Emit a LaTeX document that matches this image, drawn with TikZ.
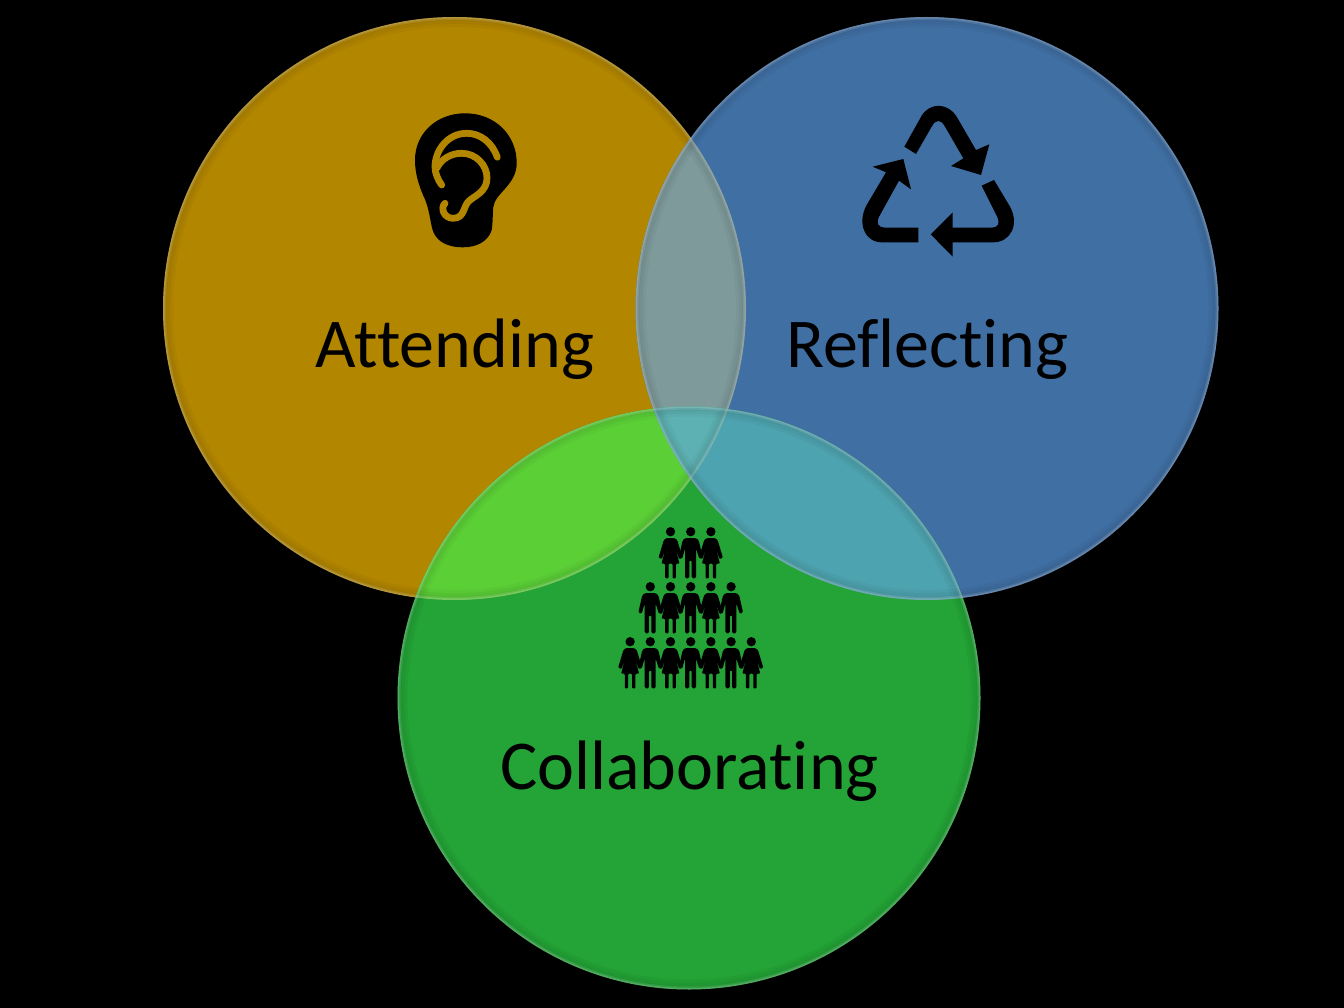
\documentclass[tikz,border=0pt]{standalone}
\usepackage{fontspec}
\setmainfont[Ligatures={NoCommon,NoRequired,NoContextual,NoDiscretionary}]{Carlito}
\definecolor{cA}{HTML}{B38600}
\definecolor{cB}{HTML}{406FA3}
\definecolor{cC}{HTML}{24A336}
\definecolor{cAB}{HTML}{7E9A9B}
\definecolor{cAC}{HTML}{5BD036}
\definecolor{cBC}{HTML}{4DA3AF}
\definecolor{cABC}{HTML}{5DB1B2}
\newcommand{\pA}{(454.5,308.5) circle [radius=291.5pt]}
\newcommand{\pB}{(927,308.5) circle [radius=291.5pt]}
\newcommand{\pC}{(689,698) circle [radius=291.5pt]}
\newcommand{\bevel}[1]{\begin{scope}\clip #1;
  \draw[black,opacity=.035,line width=8pt] #1;
  \draw[black,opacity=.035,line width=14pt] #1;
  \draw[black,opacity=.03,line width=20pt] #1;
  \draw[white,opacity=.10,line width=6pt] #1;
  \draw[white,opacity=.14,line width=3pt] #1;
\end{scope}}
\tikzset{
  x=1pt,y=-1pt,
  label text/.style={inner sep=0pt,anchor=base,text=black,font=\fontsize{70}{76}\selectfont},
  earline/.style={draw=cA,line width=6.8pt,line cap=round,line join=round},
  man/.pic={\begin{scope}[scale=1/3]
    \fill[black] (0,0) circle [radius=14];
    \fill[black,rounded corners=1.5pt] (-16,19)--(-24,25)--(-36,78)--(-26,82)--(-17,50)--(-17,140)--(-4,140)--(-4,85)--(3,85)--(3,140)--(16,140)--(16,50)--(26,82)--(36,78)--(24,25)--(16,19)--cycle;
  \end{scope}},
  woman/.pic={\begin{scope}[scale=1/3]
    \fill[black] (0,0) circle [radius=14];
    \fill[black,rounded corners=1pt] (-12,19)--(-20,25)--(-36,78)--(-26,82)--(-15,50)--(-27,96)--(-16,96)--(-16,140)--(-6,140)--(-6,96)--(6,96)--(6,140)--(16,140)--(16,96)--(27,96)--(15,50)--(26,82)--(36,78)--(20,25)--(12,19)--cycle;
  \end{scope}},
}
\begin{document}
\begin{tikzpicture}
\useasboundingbox (0,0) rectangle (1344,1008);
\fill[black] (0,0) rectangle (1344,1008);
% base discs
\fill[cA] \pA;
\fill[cB] \pB;
\fill[cC] \pC;
% overlaps
\begin{scope}\clip \pA; \fill[cAB] \pB; \fill[cAC] \pC; \end{scope}
\begin{scope}\clip \pB; \fill[cBC] \pC; \end{scope}
\begin{scope}\clip \pA; \clip \pB; \fill[cABC] \pC; \end{scope}
% bevels
\bevel{\pA}
\bevel{\pB}
\bevel{\pC}
% labels
\node[label text] (attending) at (455,367) {Attending};
\node[label text] (reflecting) at (927.5,367) {Reflecting};
\node[label text] (collaborating) at (689.5,789) {Collaborating};
% ear
\fill[black] (465,113.3) .. controls (495,113.3) and (516.7,135) .. (516.7,163)
  .. controls (516.7,185) and (495,193) .. (493.3,207)
  .. controls (492.5,215) and (493,222) .. (491.7,230)
  .. controls (488,242) and (476,247.3) .. (463,247.3)
  .. controls (445,247.3) and (435,240) .. (432,228)
  .. controls (429,213) and (428,205) .. (423,195)
  .. controls (418,183) and (415,172) .. (415,160)
  .. controls (415,133) and (437,113.3) .. (465,113.3) -- cycle;
\draw[earline] (497.3,157.3) .. controls (492,142) and (480,133.3) .. (466.7,133.3)
  .. controls (448,133.3) and (435,150) .. (435,167)
  .. controls (435,173) and (438,180) .. (441.7,185);
\draw[earline] (437,168) .. controls (441,159) and (451,153.3) .. (461.7,153.3)
  .. controls (476,153.3) and (487,165) .. (487,178)
  .. controls (487,192) and (474,196) .. (469,201)
  .. controls (463,206) and (465,218.3) .. (453,218.3)
  .. controls (444,218.3) and (440,208) .. (445,203.3);
% recycle
\begin{scope}[shift={(850,95)},scale=1/3]
\fill[black] (163,155) -- (215,62) .. controls (240,22) and (292,22) .. (320,65)
  -- (378,165) -- (418,148) -- (393,240) -- (303,213) -- (340,190) -- (285,95)
  .. controls (272,72) and (258,72) .. (245,95) -- (198,177) -- cycle;
\fill[black] (205,442) -- (95,442) .. controls (45,442) and (20,385) .. (50,330)
  -- (108,232) -- (68,215) -- (160,192) -- (183,283) -- (147,257) -- (90,360)
  .. controls (75,385) and (85,398) .. (105,398) -- (205,398) -- cycle;
\fill[black] (395,272) -- (432,255) -- (480,335) .. controls (510,390) and (480,442) .. (430,442)
  -- (308,442) -- (308,485) -- (242,418) -- (308,352) -- (308,398) -- (425,398)
  .. controls (445,398) and (452,385) .. (440,362) -- cycle;
\end{scope}
% people
\foreach \i/\t in {-1/woman,0/man,1/woman}
  \pic at ({690.7+\i*20.2},531.7) {\t};
\foreach \i/\t in {-2/man,-1/woman,0/man,1/woman,2/man}
  \pic at ({690.7+\i*20.2},586.7) {\t};
\foreach \i/\t in {-3/woman,-2/man,-1/woman,0/man,1/woman,2/man,3/woman}
  \pic at ({690.7+\i*20.2},641.7) {\t};
\end{tikzpicture}
\end{document}
